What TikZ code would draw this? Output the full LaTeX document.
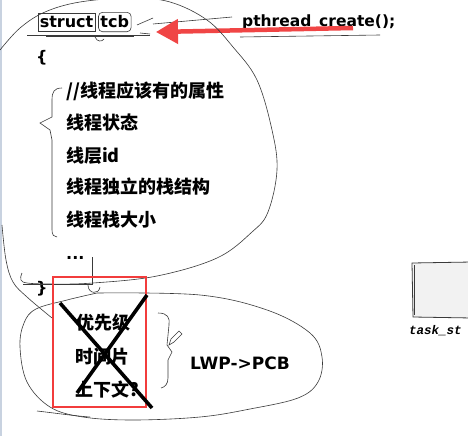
\documentclass[tikz,border=0pt]{standalone}
\usepackage{fontspec}
\setmainfont{DejaVu Sans}
\newfontfamily\cjk{Noto Sans CJK SC}
\newfontfamily\monofont{Liberation Mono}
\usetikzlibrary{arrows.meta,positioning}
\definecolor{penRed}{HTML}{F04545}
\definecolor{boxRed}{HTML}{F23C3C}
\definecolor{inkGrey}{HTML}{3A3A3A}
\definecolor{edgeBlue}{HTML}{C8D2E0}
\definecolor{paperGrey}{HTML}{F2F2F2}

\begin{document}
\begin{tikzpicture}[x=1pt,y=-1pt,every node/.style={inner sep=0pt}]
      \tikzstyle{code}=[anchor=base west,font=\bfseries\fontsize{16}{19}\selectfont]
      \tikzstyle{item}=[anchor=base west,font=\cjk\bfseries\fontsize{18}{21}\selectfont]
      \tikzstyle{scribble}=[inkGrey,line width=0.6pt]
      \tikzstyle{strike}=[black,line width=3.6pt]
      \useasboundingbox (0,0) rectangle (468,436);
      \clip (0,0) rectangle (468,436);
      \fill[white] (0,0) rectangle (468,436);
      \draw[edgeBlue,line width=2pt] (1,0) -- (1,436);
      % struct header
      \node[code,draw=inkGrey,line width=0.6pt,inner xsep=1.5pt,inner ysep=3pt] (kw) at (38,28) {struct};
      \node[code,draw=inkGrey,line width=0.6pt,rounded corners=4pt,inner xsep=2pt,inner ysep=3.5pt,right=3pt of kw.base east,anchor=base west] (tcb) {tcb};
      \node[code,font=\bfseries\fontsize{15.5}{19}\selectfont] (pc) at (242,27) {pthread\_create();};
      \draw[scribble] (27,35) -- (150,35);
      \draw[inkGrey,line width=1.4pt] (46,36) -- (134,36);
      \draw[scribble] (137,25) -- (153,18);
      \draw[scribble] (140,33) -- (150,34);
      \draw[scribble] (153,24) -- (232,17);
      \draw[scribble] (95,37) .. controls (97,42) and (102,42) .. (104,39);
      \draw[scribble] (240,37) -- (380,35);
      \coordinate (armtail) at (353,28);
      \coordinate (armtip) at (156,32);
      \draw[penRed,line width=4.5pt,-{Triangle[length=22pt,width=24pt]}] (armtail) -- (armtip);
      % body
      \node[code] (ob) at (36,63) {\{};
      \node[item] (i1) at (66,97) {//线程应该有的属性};
      \node[item] (i2) at (66,129) {线程状态};
      \node[item] (i3) at (66,162) {线层id};
      \node[item] (i4) at (66,193) {线程独立的栈结构};
      \node[item] (i5) at (66,226) {线程栈大小};
      \node[code] (i6) at (66,259) {...};
      \node[code] (cb) at (36,293) {\}};
      \draw[scribble] (62,88) .. controls (54,88) and (52,92) .. (52,100) -- (52,117) -- (40,123)
        -- (50,130) -- (52,140) -- (52,230) .. controls (52,235) and (54,237) .. (57,237);
      \draw[scribble] plot[smooth,tension=0.6] coordinates {(0,50) (20,28) (45,12) (80,2) (130,-2)
        (170,2) (207,20) (233,47) (257,80) (272,130) (277,170) (268,212) (252,232) (217,258)
        (157,276) (93,283) (50,284) (23,282) (22,273)};
      \draw[scribble] plot[smooth,tension=0.6] coordinates {(2,225) (6,260) (13,282) (27,297) (52,318)};
      \draw[scribble] (23,284) -- (93,284);
      \draw[scribble] (92,257) -- (92,284);
      \draw[scribble] (88,285) .. controls (88,294) and (99,295) .. (100,287);
      % lower loop
      \draw[scribble] plot[smooth,tension=0.6] coordinates {(97,293) (200,295) (267,310) (310,333)
        (322,357) (318,382) (298,398) (250,409) (200,417) (133,420) (83,417) (50,407) (27,382)
        (20,347) (24,323) (36,309) (67,300) (97,293)};
      \draw[scribble] (37,411) .. controls (55,413) and (75,416) .. (90,417);
      \draw[boxRed,line width=1.8pt] (53,277) rectangle (146,407);
      \node[item] (p1) at (76,329) {优先级};
      \node[item] (p2) at (75,363) {时间片};
      \node[item] (p3) at (75,396) {上下文?};
      \draw[strike] (60,303) -- (152,408);
      \draw[strike] (147,295) -- (77,393);
      \draw[scribble] (158,313) .. controls (168,313) and (170,318) .. (169,325) -- (167,345)
        -- (172,352) -- (168,360) -- (168,378) .. controls (168,384) and (165,387) .. (161,388);
      \draw[scribble] (169,345) -- (171,339) -- (179,331) -- (182,334) -- (174,342) -- cycle;
      \node[code,font=\bfseries\fontsize{17}{20}\selectfont] (lwp) at (190,369) {LWP->PCB};
      % task_struct box
      \draw[inkGrey,line width=0.8pt,fill=paperGrey] (412,263) -- (472,262) -- (472,318) -- (413,317) -- cycle;
      \draw[inkGrey,line width=0.4pt] (414,265) -- (414,315);
      \node[anchor=base west,font=\monofont\bfseries\itshape\fontsize{12.5}{15}\selectfont] (ts) at (409,334) {task\_st};
    \end{tikzpicture}
\end{document}
